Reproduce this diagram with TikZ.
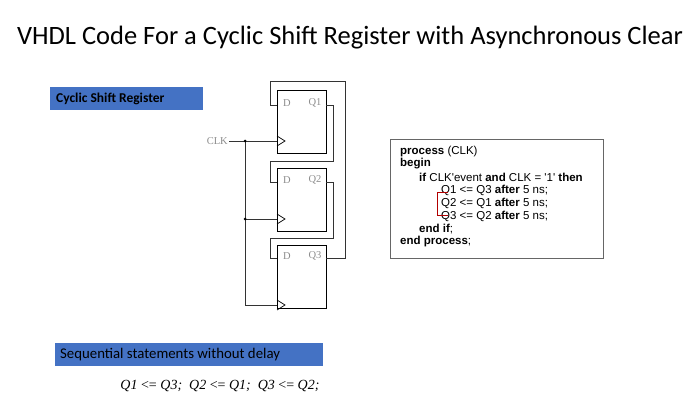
\documentclass[tikz,border=0pt]{standalone}
\usepackage{fontspec}
\setmainfont{Carlito}
\newfontfamily\arialf{Liberation Sans}
\newfontfamily\timesf{Liberation Serif}
\begin{document}
\begin{tikzpicture}[x=1pt,y=-1pt,
  wire/.style={draw=black!80,line width=0.7pt},
  ff/.style={draw=black,line width=0.9pt,minimum width=49pt,minimum height=63pt,inner sep=0pt},
  lbl/.style={font=\timesf\fontsize{10.5}{10}\selectfont,text=black!45,inner sep=1pt},
  code/.style={font=\arialf\fontsize{11.5}{13}\selectfont,anchor=west,inner sep=0pt}]
\definecolor{bandc}{RGB}{68,114,196}
\useasboundingbox (0,0) rectangle (700,417);
\node (title) at (350,38) {\fontsize{26.5}{30}\selectfont VHDL Code For a Cyclic Shift Register with Asynchronous Clear};
\node[fill=bandc,minimum width=153pt,minimum height=23pt,anchor=north west,inner sep=0pt] (b1) at (50,87) {};
\node[anchor=west,font=\fontsize{13.5}{14}\selectfont\bfseries,inner sep=0pt] (b1t) at (56,98.5) {Cyclic Shift Register};
\node[fill=bandc,minimum width=268pt,minimum height=23pt,anchor=north west,inner sep=0pt] (b2) at (55,343) {};
\node[anchor=west,font=\fontsize{14.8}{15}\selectfont,inner sep=0pt] (b2t) at (60,354.5) {Sequential statements without delay};
\node (eq) at (220,386) {\timesf\itshape\fontsize{14}{16}\selectfont Q1 \textup{<=} Q3;\enspace Q2 \textup{<=} Q1;\enspace Q3 \textup{<=} Q2;};
% flip-flops
\node[ff,anchor=north west] (f1) at (277,90) {};
\node[ff,anchor=north west] (f2) at (277,168) {};
\node[ff,anchor=north west] (f3) at (277,245) {};
\foreach \f/\q/\y in {f1/Q1/105,f2/Q2/182,f3/Q3/258}{
  \node[lbl] (\f d) at (287,\y-2) {D};
  \node[lbl] (\f q) at (315,\y-2) {\q};
}
\foreach \f/\y in {f1/141,f2/219,f3/305}{
  \draw[line width=0.7pt] (277,\y-5) -- (285,\y) -- (277,\y+5);
}
% clock
\node[lbl,anchor=east] (clk) at (229,141) {CLK};
\coordinate (j) at (245,141);
\draw[wire] (clk.east) -- (277,141);
\draw[wire] (j) -- (245,305) -- (277,305);
\draw[wire] (245,219) -- (277,219);
\fill (j) circle (1.5pt);
\fill (245,219) circle (1.5pt);
% data wires
\draw[wire] (326,258) -- (345,258) -- (345,81) -- (270,81) -- (270,105) -- (277,105);
\draw[wire] (326,105) -- (333,105) -- (333,161) -- (270,161) -- (270,182) -- (277,182);
\draw[wire] (326,182) -- (333,182) -- (333,238) -- (270,238) -- (270,258) -- (277,258);
% code box
\node[draw=black!60,line width=0.9pt,minimum width=213pt,minimum height=119pt,anchor=north west,inner sep=0pt] (cb) at (390,139) {};
\node[code] (c1) at (400,152) {\textbf{process} (CLK)};
\node[code] (c2) at (400,164) {\textbf{begin}};
\node[code] (c3) at (419,177) {\textbf{if} CLK'event \textbf{and} CLK = '1' \textbf{then}};
\node[code] (c4) at (441,190) {Q1 <= Q3 \textbf{after} 5 ns;};
\node[code] (c5) at (441,203) {Q2 <= Q1 \textbf{after} 5 ns;};
\node[code] (c6) at (441,216) {Q3 <= Q2 \textbf{after} 5 ns;};
\node[code] (c7) at (419,229) {\textbf{end if};};
\node[code] (c8) at (400,242) {\textbf{end process};};
\draw[red!70!black,line width=0.6pt] (448,192) -- (437,192) -- (437,215) -- (448,215);
\end{tikzpicture}
\end{document}
